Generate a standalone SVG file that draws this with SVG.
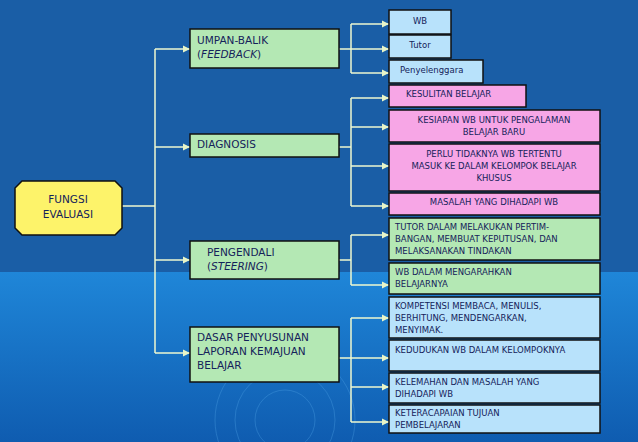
<svg xmlns="http://www.w3.org/2000/svg" width="638" height="442" viewBox="0 0 638 442">
<defs>
<linearGradient id="bg2" x1="0" y1="0" x2="0" y2="1"><stop offset="0" stop-color="#1f86d8"/><stop offset="1" stop-color="#0f5cb0"/></linearGradient>
<marker id="ar" viewBox="0 0 6 6" refX="6" refY="3" markerWidth="5" markerHeight="5" orient="auto"><path d="M0,0L6,3L0,6z" fill="#e8f5c8"/></marker>
</defs>
<style>
.g{fill:#b4e8b4;stroke:#111;stroke-width:1.5}
.p{fill:#f7a6e6;stroke:#111;stroke-width:1.5}
.b{fill:#b8e2fb;stroke:#111;stroke-width:1.5}
.c{fill:none;stroke:#eef8d0;stroke-width:1.5}
.a{marker-end:url(#ar)}
text{font-family:"DejaVu Sans",Verdana,sans-serif;fill:#14225a;font-size:8.5px}
.l1{font-size:10.5px}
.m{text-anchor:middle}
</style>
<rect width="638" height="442" fill="#1a5ea6"/>
<rect y="272" width="638" height="170" fill="url(#bg2)"/>
<g fill="none" stroke="#4fa3e6" stroke-opacity="0.35"><circle cx="285" cy="420" r="30"/><circle cx="285" cy="420" r="50"/><circle cx="285" cy="420" r="70"/></g>
<g id="connectors">
<path class="c" d="M122,206H155M155,49V353"/>
<path class="c a" d="M155,49H190"/><path class="c a" d="M155,147H190"/><path class="c a" d="M155,260H190"/><path class="c a" d="M155,353H190"/>
<path class="c" d="M339,49H351M351,24V73"/>
<path class="c a" d="M351,24H389"/><path class="c a" d="M351,49H389"/><path class="c a" d="M351,73H389"/>
<path class="c" d="M339,147H351M351,98V206"/>
<path class="c a" d="M351,98H389"/><path class="c a" d="M351,127H389"/><path class="c a" d="M351,166H389"/><path class="c a" d="M351,206H389"/>
<path class="c" d="M339,260H351M351,235V285"/>
<path class="c a" d="M351,235H389"/><path class="c a" d="M351,285H389"/>
<path class="c" d="M339,358H351M351,318V422"/>
<path class="c a" d="M351,318H389"/><path class="c a" d="M351,358H389"/><path class="c a" d="M351,387H389"/><path class="c a" d="M351,422H389"/>
</g>
<g id="fungsi"><path d="M22,181H115L122,188V228L115,235H22L15,228V188Z" fill="#fdf36a" stroke="#111" stroke-width="1.5"/>
<text class="l1 m" x="68" y="203">FUNGSI</text><text class="l1 m" x="68" y="218">EVALUASI</text></g>
<g id="umpan"><rect class="g" x="190" y="29" width="149" height="39"/><text class="l1" x="197" y="44">UMPAN-BALIK</text><text class="l1" x="197" y="58">(<tspan font-style="italic">FEEDBACK</tspan>)</text></g>
<g id="diagnosis"><rect class="g" x="190" y="134" width="149" height="23"/><text class="l1" x="197" y="148">DIAGNOSIS</text></g>
<g id="pengendali"><rect class="g" x="190" y="241" width="149" height="38"/><text class="l1" x="207" y="256">PENGENDALI</text><text class="l1" x="207" y="270">(<tspan font-style="italic">STEERING</tspan>)</text></g>
<g id="dasar"><rect class="g" x="190" y="327" width="149" height="55"/><text class="l1" x="197" y="341">DASAR PENYUSUNAN</text><text class="l1" x="197" y="355">LAPORAN KEMAJUAN</text><text class="l1" x="197" y="369">BELAJAR</text></g>
<g id="wb"><rect class="b" x="389" y="10" width="62" height="24"/><text class="m" x="420" y="24">WB</text></g>
<g id="tutor"><rect class="b" x="389" y="35" width="62" height="23"/><text class="m" x="420" y="48">Tutor</text></g>
<g id="penyelenggara"><rect class="b" x="389" y="60" width="94" height="23"/><text x="400" y="73">Penyelenggara</text></g>
<g id="kesulitan"><rect class="p" x="389" y="85" width="137" height="22"/><text x="406" y="97">KESULITAN BELAJAR</text></g>
<g id="kesiapan"><rect class="p" x="389" y="110" width="211" height="32"/><text class="m" x="494" y="123">KESIAPAN WB UNTUK PENGALAMAN</text><text class="m" x="494" y="135">BELAJAR BARU</text></g>
<g id="perlu"><rect class="p" x="389" y="144" width="211" height="47"/><text class="m" x="494" y="157">PERLU TIDAKNYA WB TERTENTU</text><text class="m" x="494" y="169">MASUK KE DALAM KELOMPOK BELAJAR</text><text class="m" x="494" y="181">KHUSUS</text></g>
<g id="masalah"><rect class="p" x="389" y="193" width="211" height="22"/><text class="m" x="494" y="205">MASALAH YANG DIHADAPI WB</text></g>
<g id="tutor2"><rect class="g" x="389" y="218" width="211" height="42"/><text x="395" y="230">TUTOR DALAM MELAKUKAN PERTIM-</text><text x="395" y="242">BANGAN, MEMBUAT KEPUTUSAN, DAN</text><text x="395" y="254">MELAKSANAKAN TINDAKAN</text></g>
<g id="wbdalam"><rect class="g" x="389" y="263" width="211" height="31"/><text x="395" y="275">WB DALAM MENGARAHKAN</text><text x="395" y="287">BELAJARNYA</text></g>
<g id="kompetensi"><rect class="b" x="389" y="297" width="211" height="41"/><text x="395" y="309">KOMPETENSI MEMBACA, MENULIS,</text><text x="395" y="321">BERHITUNG, MENDENGARKAN,</text><text x="395" y="333">MENYIMAK.</text></g>
<g id="kedudukan"><rect class="b" x="389" y="340" width="211" height="31"/><text x="395" y="353">KEDUDUKAN WB DALAM KELOMPOKNYA</text></g>
<g id="kelemahan"><rect class="b" x="389" y="373" width="211" height="30"/><text x="395" y="385">KELEMAHAN DAN MASALAH YANG</text><text x="395" y="397">DIHADAPI WB</text></g>
<g id="keteracapaian"><rect class="b" x="389" y="405" width="211" height="28"/><text x="395" y="416">KETERACAPAIAN TUJUAN</text><text x="395" y="428">PEMBELAJARAN</text></g>
</svg>
